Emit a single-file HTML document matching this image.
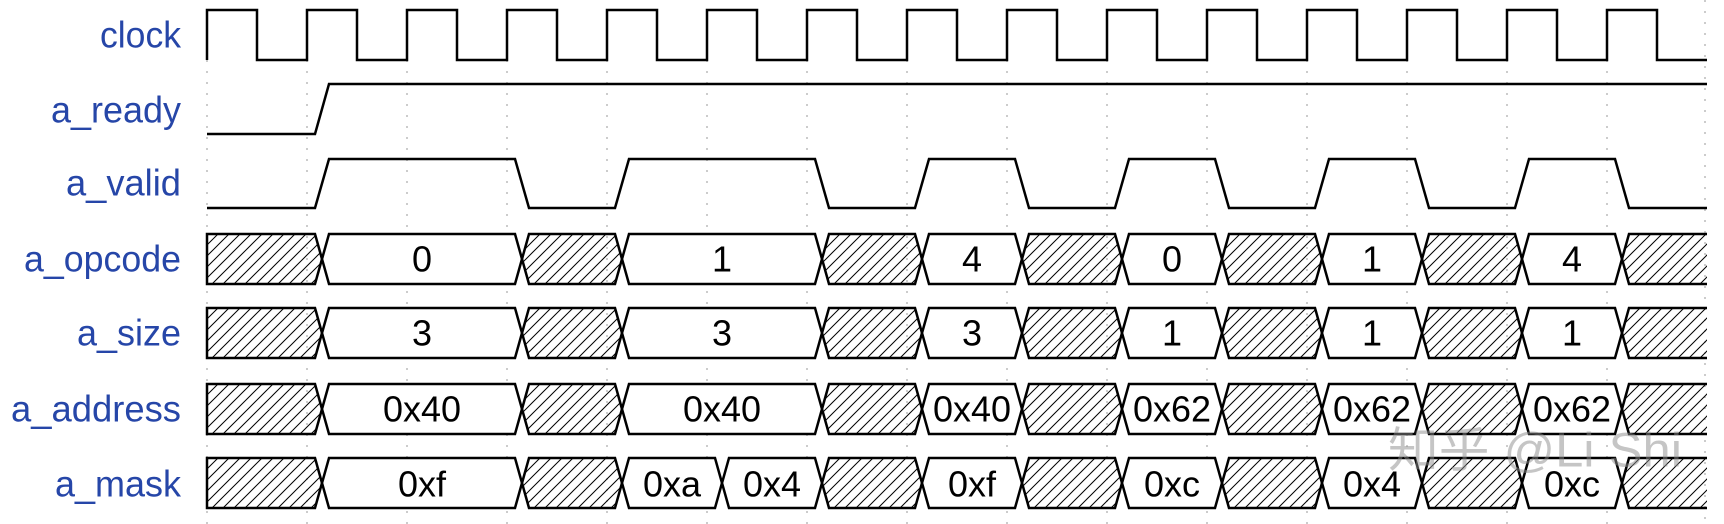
<!DOCTYPE html>
<html><head><meta charset="utf-8"><style>
html,body{margin:0;padding:0;background:#fff;}
svg{display:block;}
</style></head><body>
<svg width="1724" height="524" viewBox="0 0 1724 524" xmlns="http://www.w3.org/2000/svg" xmlns:xlink="http://www.w3.org/1999/xlink">
<defs>
<pattern id="h" patternUnits="userSpaceOnUse" width="11" height="11">
<line x1="-1" y1="12" x2="12" y2="-1" stroke="#000" stroke-width="1"/>
<line x1="-6" y1="6" x2="6" y2="-6" stroke="#000" stroke-width="1" stroke-opacity="0"/>
<line x1="10" y1="12" x2="12" y2="10" stroke="#000" stroke-width="1"/>
<line x1="-1" y1="1" x2="1" y2="-1" stroke="#000" stroke-width="1"/>
</pattern>
<polygon id="hF" points="0,0 108,0 115,25 108,50 0,50" fill="url(#h)" stroke="#000" stroke-width="2.5"/>
<polygon id="h1" points="15,25 22,0 108,0 115,25 108,50 22,50" fill="url(#h)" stroke="#000" stroke-width="2.5"/>
<polygon id="v1" points="15,25 22,0 108,0 115,25 108,50 22,50" fill="#fff" stroke="#000" stroke-width="2.5"/>
<polygon id="v2" points="15,25 22,0 208,0 215,25 208,50 22,50" fill="#fff" stroke="#000" stroke-width="2.5"/>
<g id="hL"><polygon points="15,25 22,0 100,0 100,50 22,50" fill="url(#h)" stroke="none"/><path d="M100,0 H22 L15,25 L22,50 H100" fill="none" stroke="#000" stroke-width="2.5"/></g>
<g id="row">
<use xlink:href="#hF" x="207"/>
<use xlink:href="#v2" x="307"/>
<use xlink:href="#h1" x="507"/>
<use xlink:href="#h1" x="807"/>
<use xlink:href="#v1" x="907"/>
<use xlink:href="#h1" x="1007"/>
<use xlink:href="#v1" x="1107"/>
<use xlink:href="#h1" x="1207"/>
<use xlink:href="#v1" x="1307"/>
<use xlink:href="#h1" x="1407"/>
<use xlink:href="#v1" x="1507"/>
<use xlink:href="#hL" x="1607"/>
</g>
</defs>
<g stroke="#999" stroke-width="1" stroke-dasharray="2 9">
<line x1="207" y1="60" x2="207" y2="524"/><line x1="307" y1="60" x2="307" y2="524"/><line x1="407" y1="60" x2="407" y2="524"/><line x1="507" y1="60" x2="507" y2="524"/><line x1="607" y1="60" x2="607" y2="524"/><line x1="707" y1="60" x2="707" y2="524"/><line x1="807" y1="60" x2="807" y2="524"/><line x1="907" y1="60" x2="907" y2="524"/><line x1="1007" y1="60" x2="1007" y2="524"/><line x1="1107" y1="60" x2="1107" y2="524"/><line x1="1207" y1="60" x2="1207" y2="524"/><line x1="1307" y1="60" x2="1307" y2="524"/><line x1="1407" y1="60" x2="1407" y2="524"/><line x1="1507" y1="60" x2="1507" y2="524"/><line x1="1607" y1="60" x2="1607" y2="524"/><line x1="1705" y1="0" x2="1705" y2="524"/>
</g>
<g font-family="Liberation Sans, sans-serif" font-size="37" fill="#2646a8" text-anchor="end" dominant-baseline="central">
<text x="181" y="35" textLength="81" lengthAdjust="spacingAndGlyphs">clock</text>
<text x="181" y="110" textLength="130" lengthAdjust="spacingAndGlyphs">a_ready</text>
<text x="181" y="183" textLength="115" lengthAdjust="spacingAndGlyphs">a_valid</text>
<text x="181" y="259" textLength="157" lengthAdjust="spacingAndGlyphs">a_opcode</text>
<text x="181" y="333" textLength="104" lengthAdjust="spacingAndGlyphs">a_size</text>
<text x="181" y="409" textLength="170" lengthAdjust="spacingAndGlyphs">a_address</text>
<text x="181" y="484" textLength="126" lengthAdjust="spacingAndGlyphs">a_mask</text>
</g>
<g fill="none" stroke="#000" stroke-width="2.5" stroke-linejoin="miter">
<path d="M207,60 V10 H257 V60 H307 V10 H357 V60 H407 V10 H457 V60 H507 V10 H557 V60 H607 V10 H657 V60 H707 V10 H757 V60 H807 V10 H857 V60 H907 V10 H957 V60 H1007 V10 H1057 V60 H1107 V10 H1157 V60 H1207 V10 H1257 V60 H1307 V10 H1357 V60 H1407 V10 H1457 V60 H1507 V10 H1557 V60 H1607 V10 H1657 V60 H1707"/>
<path d="M207,134 H315 L329,84 H1707"/>
<path d="M207,208 H315 L329,159 H515 L529,208 H615 L629,159 H815 L829,208 H915 L929,159 H1015 L1029,208 H1115 L1129,159 H1215 L1229,208 H1315 L1329,159 H1415 L1429,208 H1515 L1529,159 H1615 L1629,208 H1707"/>
</g>
<g transform="translate(0,234)"><use xlink:href="#row"/><use xlink:href="#v2" x="607"/></g>
<g transform="translate(0,308)"><use xlink:href="#row"/><use xlink:href="#v2" x="607"/></g>
<g transform="translate(0,384)"><use xlink:href="#row"/><use xlink:href="#v2" x="607"/></g>
<g transform="translate(0,458)"><use xlink:href="#row"/><use xlink:href="#v1" x="607"/><use xlink:href="#v1" x="707"/></g>
<g font-family="Liberation Sans, sans-serif" font-size="36" fill="#000" text-anchor="middle" dominant-baseline="central">
<text x="422" y="259">0</text><text x="722" y="259">1</text><text x="972" y="259">4</text><text x="1172" y="259">0</text><text x="1372" y="259">1</text><text x="1572" y="259">4</text>
<text x="422" y="333">3</text><text x="722" y="333">3</text><text x="972" y="333">3</text><text x="1172" y="333">1</text><text x="1372" y="333">1</text><text x="1572" y="333">1</text>
<text x="422" y="409" textLength="78" lengthAdjust="spacingAndGlyphs">0x40</text><text x="722" y="409" textLength="78" lengthAdjust="spacingAndGlyphs">0x40</text><text x="972" y="409" textLength="78" lengthAdjust="spacingAndGlyphs">0x40</text><text x="1172" y="409" textLength="78" lengthAdjust="spacingAndGlyphs">0x62</text><text x="1372" y="409" textLength="78" lengthAdjust="spacingAndGlyphs">0x62</text><text x="1572" y="409" textLength="78" lengthAdjust="spacingAndGlyphs">0x62</text>
<text x="422" y="484">0xf</text><text x="672" y="484">0xa</text><text x="772" y="484">0x4</text><text x="972" y="484">0xf</text><text x="1172" y="484">0xc</text><text x="1372" y="484">0x4</text><text x="1572" y="484">0xc</text>
</g>
<text x="1388" y="451" font-family="Liberation Sans, 'Noto Sans CJK SC', sans-serif" font-size="48" fill="rgba(140,140,140,0.5)" dominant-baseline="central" textLength="294" lengthAdjust="spacingAndGlyphs">知乎 @Li Shi</text>
</svg>
</body></html>
